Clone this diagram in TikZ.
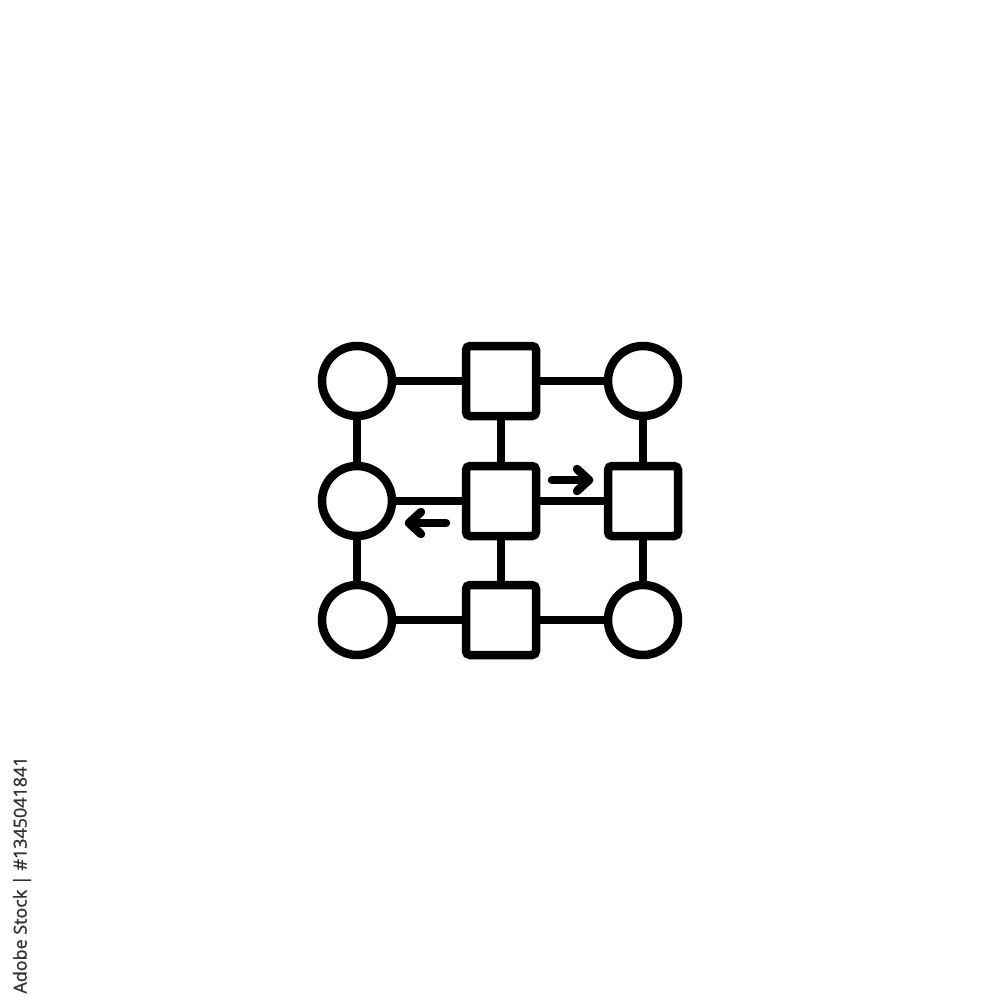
\documentclass[tikz,border=0pt]{standalone}
\usepackage{fontspec}
\usetikzlibrary{calc}
\newfontfamily\wmfont[FakeBold=1.2]{Open Sans}
\begin{document}
\begin{tikzpicture}[x=0.1mm,y=-0.1mm,
  ln/.style={line width=0.85mm,black},
  circ/.style={circle,draw,ln,minimum size=7mm,inner sep=0pt,fill=white},
  sq/.style={rectangle,draw,ln,minimum size=7mm,inner sep=0pt,rounded corners=0.4mm,fill=white},
  arr/.style={ln,line cap=round,line join=round}]
\fill[white] (0,0) rectangle (1000,1000);
\useasboundingbox (0,0) rectangle (1000,1000);
% nodes
\node[circ] (c11) at (357,381) {};
\node[sq]   (s12) at (501,381) {};
\node[circ] (c13) at (643,381) {};
\node[circ] (c21) at (357,501) {};
\node[sq]   (s22) at (501,501) {};
\node[sq]   (s23) at (643,501) {};
\node[circ] (c31) at (357,620) {};
\node[sq]   (s32) at (501,620) {};
\node[circ] (c33) at (643,620) {};
% connectors
\draw[ln] (c11) -- (s12);
\draw[ln] (s12) -- (c13);
\draw[ln] (c21) -- (s22);
\draw[ln] (s22) -- (s23);
\draw[ln] (c31) -- (s32);
\draw[ln] (s32) -- (c33);
\draw[ln] (c11) -- (c21);
\draw[ln] (c21) -- (c31);
\draw[ln] (s12) -- (s22);
\draw[ln] (s22) -- (s32);
\draw[ln] (c13) -- (s23);
\draw[ln] (s23) -- (c33);
% arrows
\coordinate (ra) at (552,480);
\coordinate (rb) at (589,480);
\draw[arr] (ra) -- (rb);
\draw[arr] ($(rb)+(-12,-11)$) -- (rb) -- ($(rb)+(-12,11)$);
\coordinate (la) at (446,523);
\coordinate (lb) at (409,523);
\draw[arr] (la) -- (lb);
\draw[arr] ($(lb)+(12,-11)$) -- (lb) -- ($(lb)+(12,11)$);
% side label
\node[rotate=90,text=black!80,inner sep=0pt,font=\wmfont\fontsize{5.1pt}{6pt}\selectfont] (wm) at (22,875) {Adobe Stock | \#1345041841};
\end{tikzpicture}
\end{document}
